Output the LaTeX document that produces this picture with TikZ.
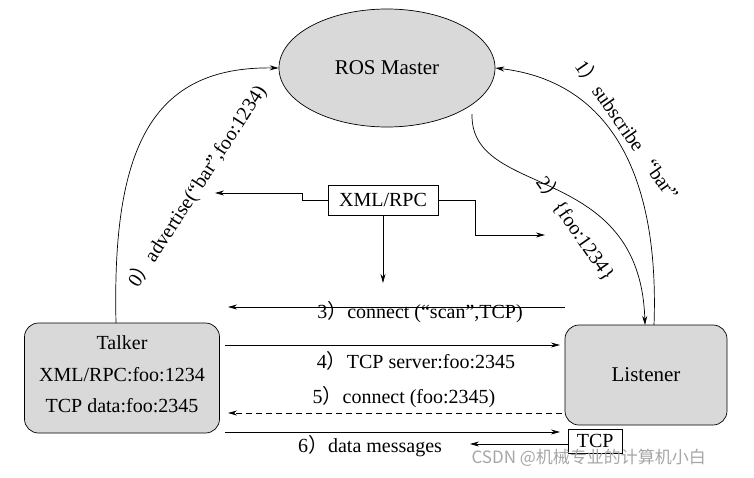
\documentclass[tikz,border=0pt]{standalone}
\usepackage{fontspec}
\setmainfont{Liberation Serif}
\newfontfamily\cjk{Noto Sans CJK SC}
\usetikzlibrary{shapes.geometric,arrows.meta}
\newcommand{\rp}{{\cjk ）}}
\begin{document}
\begin{tikzpicture}[x=1pt,y=-1pt,
  every node/.style={font=\fontsize{20}{23}\selectfont},
  ar/.style={-{Stealth[length=9pt,width=5pt]},line width=0.7pt},
  gbox/.style={draw,fill=gray!30,rounded corners=14pt,line width=0.7pt}]
\useasboundingbox (0,0) rectangle (754,477);
\node[ellipse,draw,fill=gray!30,minimum width=216pt,minimum height=118pt,line width=0.7pt,font=\fontsize{21}{24}\selectfont] (ros) at (387,68) {ROS Master};
\node[gbox,minimum width=195pt,minimum height=110pt] (talker) at (122,378) {};
\node at (122,343) (t1) {Talker};
\node at (122,375) (t2) {XML/RPC:foo:1234};
\node at (122,406) (t3) {TCP data:foo:2345};
\node[gbox,minimum width=162pt,minimum height=100pt,font=\fontsize{21}{24}\selectfont] (listener) at (646,375) {Listener};
\node[draw,inner sep=3pt,minimum width=110pt,minimum height=30pt] (xml) at (383,200) {XML/RPC};
\node[draw,inner sep=2pt,minimum width=54pt,minimum height=24pt,anchor=west] (tcp) at (568,441) {TCP};
\coordinate (xl) at (215,193);
\coordinate (xr) at (545,235);
\coordinate (xd) at (383,283);
\draw[ar] (xml.west) -- (302,200) -- (302,193) -- (xl);
\draw[ar] (xml.east) -- (475,200) -- (475,235) -- (xr);
\draw[ar] (xml.south) -- (xd);
% 0
\draw[ar] (116,323) .. controls (112,150) and (150,66) .. (ros.west);
\node[rotate=57] at (197,186) {0\rp advertise(“bar”,foo:1234)};
% 1
\draw[ar] (654,325) .. controls (660,160) and (600,80) .. (ros.east);
\node[rotate=-55] at (632,136) {1\rp subscribe（“bar”）};
% 2
\draw[ar] (472,114) .. controls (470,200) and (640,160) .. (645,325);
\node[rotate=-55] at (576,228) {2\rp \{foo:1234\}};
% horizontal
\coordinate (l3) at (228,307); \coordinate (r3) at (565,307);
\coordinate (l4) at (225,345); \coordinate (r4) at (560,345);
\coordinate (l5) at (228,413); \coordinate (r5) at (562,413);
\coordinate (l6) at (225,432); \coordinate (r6) at (560,432);
\coordinate (e7) at (470,444);
\draw[ar] (r3) -- (l3);
\draw[ar] (l4) -- (r4);
\draw[ar,dashed,dash pattern=on 6pt off 4pt] (r5) -- (l5);
\draw[ar] (l6) -- (r6);
\draw[ar] (tcp.west |- e7) -- (e7);
\node at (420,312) {3\rp connect (“scan”,TCP)};
\node at (416,361) {4\rp TCP server:foo:2345};
\node at (404,397) {5\rp connect (foo:2345)};
\node at (370,446) {6\rp data messages};
\node[text=gray!70,font=\cjk\fontsize{17}{19}\selectfont,anchor=west] at (468,458) {CSDN @机械专业的计算机小白};
\end{tikzpicture}
\end{document}
